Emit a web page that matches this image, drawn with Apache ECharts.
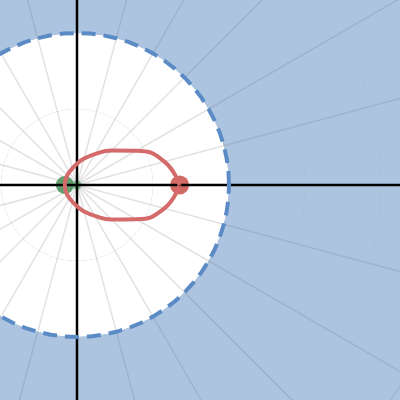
<!DOCTYPE html>
<html>
<head>
<meta charset="utf-8">
<script src="https://cdn.jsdelivr.net/npm/echarts@6/dist/echarts.min.js"></script>
<style>html,body{margin:0;padding:0;}#chart{width:400px;height:400px;}</style>
</head>
<body>
<div id="chart"></div>
<script>
// orbit: angle (deg) and radius (grid units)
const orbitAngles = [0, 15, 30, 45, 60, 75, 90, 120, 150, 180, 210, 240, 270, 285, 300, 315, 330, 345, 360];
const orbitRadii  = [1.35, 1.19, 0.90, 0.64, 0.47, 0.36, 0.28, 0.20, 0.17, 0.16, 0.17, 0.20, 0.28, 0.36, 0.47, 0.64, 0.90, 1.19, 1.35];
const boundaryRadius = 2;
const perihelion = [0.16, 180];
const aphelion = [1.35, 0];
const star = [0, 0];

const blue = '#adc4e0';
const chart = echarts.init(document.getElementById('chart'));

const circle = [];
for (let a = 0; a <= 360; a += 5) circle.push([boundaryRadius, a]);

chart.setOption({
  backgroundColor: blue,
  animation: false,
  polar: { center: [77, 185], radius: 380 },
  angleAxis: {
    type: 'value', min: 0, max: 360, interval: 15, startAngle: 0, clockwise: false,
    axisLine: { show: false }, axisTick: { show: false }, axisLabel: { show: false },
    splitLine: { lineStyle: { color: 'rgba(110,110,110,0.2)', width: 1.5 } }
  },
  radiusAxis: {
    type: 'value', min: 0, max: 5, interval: 1,
    axisLine: { show: false }, axisTick: { show: false }, axisLabel: { show: false },
    splitLine: { lineStyle: { color: 'rgba(110,110,110,0.25)', width: 1.5 } },
    splitArea: { show: true, areaStyle: { color: ['#ffffff', '#ffffff', blue, blue, blue] } }
  },
  series: [
    { type: 'line', coordinateSystem: 'polar', data: [[5, 0], [0, 0], [5, 180]], symbol: 'none', lineStyle: { color: '#000', width: 2.5 }, silent: true },
    { type: 'line', coordinateSystem: 'polar', data: [[5, 90], [0, 0], [5, 270]], symbol: 'none', lineStyle: { color: '#000', width: 2.5 }, silent: true },
    { type: 'line', coordinateSystem: 'polar', data: circle, symbol: 'none', lineStyle: { color: '#5b8bc5', width: 4, type: [14, 8] } },
    { type: 'line', coordinateSystem: 'polar', smooth: true, symbol: 'none',
      data: orbitRadii.map((r, i) => [r, orbitAngles[i]]),
      lineStyle: { color: '#d46a6a', width: 4 } },
    { type: 'scatter', coordinateSystem: 'polar', data: [perihelion], symbolSize: 18, itemStyle: { color: '#3f8a4c' } },
    { type: 'scatter', coordinateSystem: 'polar', data: [star], symbolSize: 9, itemStyle: { color: '#5aa869' } },
    { type: 'scatter', coordinateSystem: 'polar', data: [aphelion], symbolSize: 19, itemStyle: { color: '#c4453c' } }
  ]
});
</script>
</body>
</html>
